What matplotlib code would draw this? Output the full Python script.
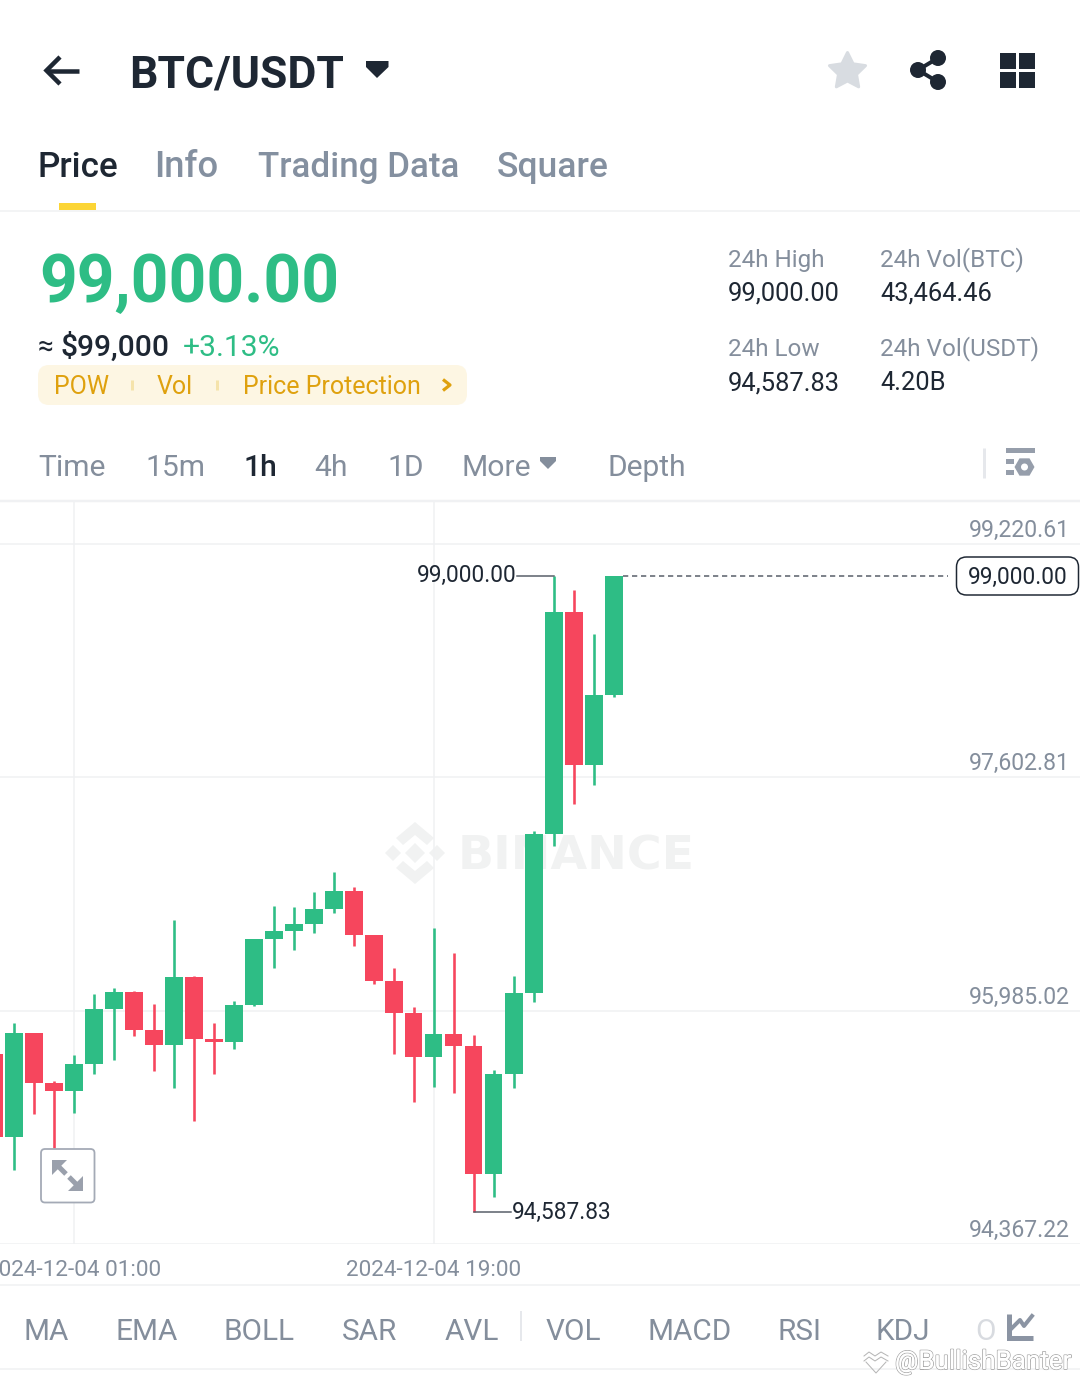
import numpy as np
import matplotlib
matplotlib.use("Agg")
import matplotlib.pyplot as plt
import matplotlib.patheffects as pe
from matplotlib.patches import FancyBboxPatch, Polygon, Circle, Rectangle
from matplotlib.transforms import ScaledTranslation

# hourly candles, hour 0 = 2024-12-04 01:00
hours = list(range(-4, 28))
opens = [95684.6, 95111.2, 95828.1, 95481.4, 95430.1, 95615.2, 95998.6, 96116.5,
         95848.9, 95744.9, 96216.4, 95790.6, 95769.8, 96024.3, 96479.8, 96539.4,
         96588.0, 96687.8, 96816.1, 96512.4, 96190.7, 95968.8, 95667.2, 95823.2,
         95742.1, 94849.1, 95547.3, 96108.9, 97209.9, 98749.1, 97690.4, 98175.0]
closes = [95111.2, 95828.1, 95481.4, 95430.1, 95615.2, 95998.6, 96116.5, 95848.9,
          95744.9, 96216.4, 95786.5, 95769.8, 96024.3, 96479.8, 96539.4, 96588.0,
          96687.8, 96816.1, 96512.4, 96190.7, 95968.8, 95667.2, 95823.2, 95742.1,
          94849.1, 95547.3, 96108.9, 97209.9, 98749.1, 97690.4, 98175.0, 99000.0]
highs = [95781.6, 95901.6, 95828.1, 95499.5, 95677.6, 96100.6, 96140.1, 96123.4,
         96029.2, 96613.7, 96225.4, 95897.4, 96049.9, 96479.8, 96712.8, 96701.7,
         96809.9, 96948.5, 96839.7, 96512.4, 96277.4, 96013.2, 96558.2, 96385.5,
         95817.7, 95570.8, 96223.3, 97230.7, 99000.0, 98899.6, 98596.6, 99000.0]
lows = [95019.0, 94880.3, 95268.6, 95032.8, 95273.4, 95545.9, 95643.0, 95809.4,
        95568.8, 95448.8, 95222.1, 95545.9, 95717.1, 96017.4, 96278.7, 96405.6,
        96525.6, 96660.1, 96430.6, 96172.7, 95684.6, 95354.6, 95456.5, 95414.2,
        94587.83, 94690.3, 95450.9, 96043.0, 97128.8, 97417.9, 97546.2, 98162.6]
price_ticks = [94367.22, 95985.02, 97602.81, 99220.61]
price_labels = ["94,367.22", "95,985.02", "97,602.81", "99,220.61"]
time_ticks = [0, 18]
time_labels = ["2024-12-04 01:00", "2024-12-04 19:00"]
last_price = 99000.0
tabs = ["Price", "Info", "Trading Data", "Square"]
intervals = ["Time", "15m", "1h", "4h", "1D", "More", "Depth"]
indicators = ["MA", "EMA", "BOLL", "SAR", "AVL", "VOL", "MACD", "RSI", "KDJ", "O"]

GREEN = "#2ebd85"
RED = "#f6465d"
DARK = "#1e2733"
GREY = "#848e9c"
LINE = "#f0f1f3"
GOLD = "#dfa10e"
PX = 0.72  # pixels to points at dpi 100

plt.rcParams["font.family"] = ["Roboto", "DejaVu Sans"]
fig = plt.figure(figsize=(10.8, 13.83), dpi=100, facecolor="white")

ui = fig.add_axes([0, 0, 1, 1], zorder=0)
ui.set_xlim(0, 1080)
ui.set_ylim(1383, 0)
ui.axis("off")


def txt(x, y, s, size, color=DARK, weight="normal", ha="left", **kw):
    return ui.text(x, y, s, fontsize=size * PX, color=color, fontweight=weight,
                   ha=ha, va="baseline", **kw)


def hline(y, x0=0, x1=1080, color=LINE, lw=1.5):
    ui.plot([x0, x1], [y, y], color=color, lw=lw * PX, solid_capstyle="butt")


# header
ui.plot([79, 47], [70.5, 70.5], color=DARK, lw=4.5 * PX, solid_capstyle="butt")
ui.plot([60, 46.5, 60], [57, 70.5, 84], color=DARK, lw=4.5 * PX, solid_joinstyle="miter", solid_capstyle="butt")
txt(129, 87, "BTC/USDT", 44.5, weight="bold")
ui.add_patch(Polygon([(366, 61), (388.5, 61), (388.5, 67), (377, 78), (366, 67)], fc=DARK, ec="none"))
ang = np.radians(np.arange(10) * 36 - 90)
rad = np.array([19, 9.5] * 5)
ui.add_patch(Polygon(np.c_[847.5 + rad * np.cos(ang), 71.5 + rad * np.sin(ang)],
                     fc="#d8dce1", ec="#d8dce1", lw=3 * PX, joinstyle="round"))
for (cx, cy) in [(938, 58), (938, 82), (918, 70)]:
    ui.add_patch(Circle((cx, cy), 8, fc=DARK, ec="none"))
ui.plot([938, 918, 938], [58, 70, 82], color=DARK, lw=4 * PX)
for (gx, gy) in [(1000, 53), (1019, 53), (1000, 72), (1019, 72)]:
    ui.add_patch(Rectangle((gx, gy), 15.5, 15.5, fc=DARK, ec="none"))

# tabs
for name, x, size in zip(tabs, [38, 154, 258, 497], [35, 36.5, 35, 35.5]):
    sel = name == "Price"
    txt(x, 177, name, size, color=DARK if sel else "#8490a0", weight="medium")
ui.add_patch(Rectangle((59, 202.5), 37, 7.5, fc="#fcd535", ec="none"))
hline(210.5)

# price block
txt(39, 302, "99,000.00", 66, color=GREEN, weight="bold")
txt(38, 356, "≈", 28)
txt(61, 356, "$99,000", 30, weight="medium")
txt(183, 356, "+3.13%", 30, color=GREEN)
ui.add_patch(FancyBboxPatch((38, 365), 429, 40, boxstyle="round,pad=0,rounding_size=11", fc="#fdf6e3", ec="none"))
for x, s in [(54, "POW"), (157, "Vol"), (243, "Price Protection")]:
    txt(x, 394, s, 25, color=GOLD)
for x in [132, 217]:
    ui.plot([x, x], [380, 390], color="#f5e3ab", lw=3 * PX, solid_capstyle="butt")
ui.plot([443, 450, 443], [379.5, 385, 390.5], color=GOLD, lw=3.2 * PX, solid_capstyle="butt")

# 24h stats
for x, y, s in [(728, 267, "24h High"), (880, 266, "24h Vol(BTC)"), (728, 356, "24h Low"), (880, 355, "24h Vol(USDT)")]:
    txt(x, y, s, 24.3, color=GREY)
for x, y, s in [(728, 301, "99,000.00"), (880, 300, "43,464.46"), (728, 391, "94,587.83"), (880, 390, "4.20B")]:
    txt(x, y, s, 25.5, color=DARK)

# interval row
for name, x in zip(intervals, [38, 145, 243, 314, 387, 462, 608]):
    sel = name == "1h"
    txt(x, 476, name, 30, color=DARK if sel else GREY, weight="medium" if sel else "normal")
ui.add_patch(Polygon([(540, 457), (556, 457), (556, 461), (548, 469), (540, 461)], fc=GREY, ec="none"))
ui.plot([984, 984], [448, 478], color="#e6e8ec", lw=3 * PX, solid_capstyle="butt")
ui.add_patch(Rectangle((1006, 448), 29, 4.5, fc="#969eab", ec="none"))
ui.add_patch(Rectangle((1006, 459), 8, 4.5, fc="#969eab", ec="none"))
ui.add_patch(Rectangle((1006, 470), 8, 4.5, fc="#969eab", ec="none"))
ang = np.radians(np.arange(6) * 60 + 30)
ui.add_patch(Polygon(np.c_[1024.5 + 10 * np.sin(ang), 467 + 10 * np.cos(ang)], fc="#969eab", ec="none"))
ui.add_patch(Circle((1024.5, 467), 3.5, fc="white", ec="none"))
hline(501, lw=2.5)

# watermark
wm = "#f1f2f2"
ui.add_patch(Polygon([(415, 843), (425, 853), (415, 863), (405, 853)], fc=wm, ec="none"))
ui.add_patch(Polygon([(393, 845), (401, 853), (393, 861), (385, 853)], fc=wm, ec="none"))
ui.add_patch(Polygon([(437, 845), (445, 853), (437, 861), (429, 853)], fc=wm, ec="none"))
ui.add_patch(Polygon([(415, 822), (434, 838), (427, 845), (415, 835), (403, 845), (396, 838)], fc=wm, ec="none"))
ui.add_patch(Polygon([(415, 884), (434, 868), (427, 861), (415, 871), (403, 861), (396, 868)], fc=wm, ec="none"))
txt(458, 870, "BINANCE", 47.4, color=wm, weight="bold", family="DejaVu Sans")

# bottom row
hline(1284.5)
for name, x in zip(indicators, [24, 115, 224, 342, 445, 546, 648, 778, 875, 975]):
    txt(x, 1340, name, 29.7, color="#d8dbe0" if name == "O" else GREY)
ui.plot([521, 521], [1312, 1340], color="#e6e8ec", lw=2 * PX)
ui.plot([1009, 1009, 1033], [1314, 1338, 1338], color="#8b94a3", lw=5 * PX, solid_capstyle="butt", solid_joinstyle="miter")
ui.plot([1012, 1020, 1024, 1032], [1328, 1320, 1326, 1316], color="#8b94a3", lw=4 * PX)
hline(1368.5)

# chart
chart = fig.add_axes([0, (1383 - 1244) / 1383, 1, (1244 - 502) / 1383], zorder=1)
chart.patch.set_alpha(0)
chart.set_xlim(-3.685, 50.315)
chart.set_ylim(94367.22, 99511.8)
for sp in chart.spines.values():
    sp.set_visible(False)
chart.grid(True, color=LINE, lw=1.5 * PX)
chart.set_axisbelow(True)
chart.set_xticks(time_ticks, time_labels)
chart.yaxis.tick_right()
chart.set_yticks(price_ticks, price_labels)
chart.tick_params(axis="x", length=0, labelsize=22.5 * PX, labelcolor=GREY, pad=11.5)
chart.tick_params(axis="y", length=0, labelsize=23 * PX, labelcolor=GREY, pad=-10 * PX)
for lab in chart.get_yticklabels():
    lab.set_ha("right")
    lab.set_va("bottom")
    lab.set_transform(lab.get_transform() + ScaledTranslation(0, 2 / 100, fig.dpi_scale_trans))

colors = [GREEN if c >= o else RED for o, c in zip(opens, closes)]
chart.vlines(hours, lows, highs, colors=colors, lw=2.6 * PX, zorder=2)
chart.bar(hours, np.abs(np.array(closes) - np.array(opens)), bottom=np.minimum(opens, closes),
          width=0.88, color=colors, linewidth=0, zorder=3)

# high and low markers
hi = hours[int(np.argmax(highs))]
lo = hours[int(np.argmin(lows))]
chart.plot([hi, hi - 1.85], [max(highs), max(highs)], color="#555c66", lw=1.5 * PX, zorder=2)
chart.plot([lo, lo + 1.87], [min(lows), min(lows)], color="#555c66", lw=1.5 * PX, zorder=2)
chart.text(hi - 1.87, max(highs), "99,000.00", fontsize=22.6 * PX, color=DARK, ha="right", va="center")
chart.text(lo + 1.92, min(lows), "94,587.83", fontsize=22.6 * PX, color=DARK, ha="left", va="center")

# last price
chart.plot([hours[-1] + 0.44, 43.7], [last_price, last_price], color="#555c66", lw=1.5 * PX, dashes=(3.5, 2.5), zorder=2)
chart.add_patch(FancyBboxPatch((956.5, 557), 122, 38, boxstyle="round,pad=0,rounding_size=10", fc="white", ec=DARK,
                               lw=1.5 * PX, transform=ui.transData, zorder=5, clip_on=False))
chart.text(1018, 577, "99,000.00", fontsize=22.6 * PX, color=DARK, ha="center", va="center",
           transform=ui.transData, zorder=6)

# expand button
chart.add_patch(FancyBboxPatch((41, 1149), 53.5, 53.5, boxstyle="round,pad=0,rounding_size=4", fc="white", ec="#a4aab6",
                               lw=1.8 * PX, transform=ui.transData, zorder=5))
for pts in ([(52, 1160), (67, 1160), (52, 1175)], [(83, 1191), (68, 1191), (83, 1176)]):
    chart.add_patch(Polygon(pts, fc="#9aa0ac", ec="none", transform=ui.transData, zorder=6))
for xs, ys in [([56, 66], [1164, 1174]), ([79, 69], [1187, 1177])]:
    chart.plot(xs, ys, color="#9aa0ac", lw=5 * PX, transform=ui.transData, zorder=6, solid_capstyle="butt")

# repost tag
tag = txt(895, 1369, "@BullishBanter", 26, color="white", zorder=7)
tag.set_path_effects([pe.withStroke(linewidth=1.2, foreground="#a8a8a8"), pe.Normal()])
tag.set_clip_on(False)
for ys in ([1356, 1352, 1356], [1361, 1357, 1361]):
    ui.plot([864, 869, 875, 881, 888], [ys[0], ys[1], ys[2], ys[1], ys[0]], color="#b5b5b5", lw=1 * PX)
ui.plot([866, 876, 886], [1362, 1373, 1362], color="#b5b5b5", lw=1 * PX)

fig.savefig("out.png", dpi=100)
